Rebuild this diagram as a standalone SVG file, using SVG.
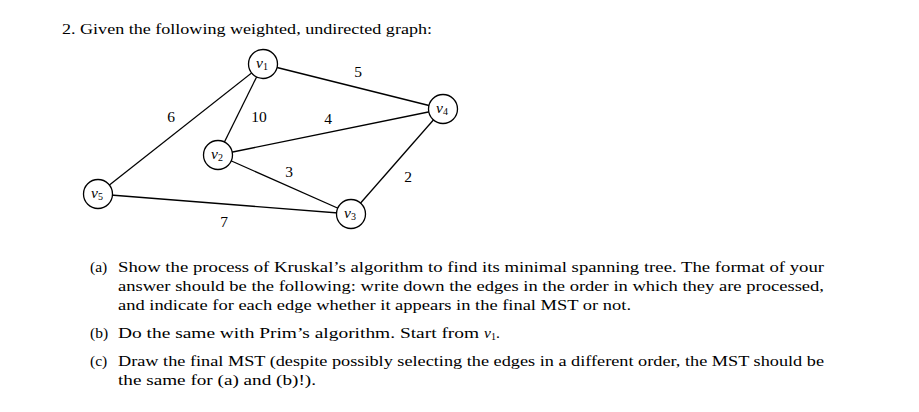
<svg xmlns="http://www.w3.org/2000/svg" width="919" height="412" viewBox="0 0 919 412">
<style>
text{font-family:"Liberation Serif",serif;font-size:15.5px;fill:#000}
.n circle{fill:#fff;stroke:#000;stroke-width:1.3}
.n text{font-style:italic;text-anchor:middle}
.n tspan{font-size:10px;font-style:normal}
#edges line{stroke:#000;stroke-width:1.3}
.w{text-anchor:middle}
</style>
<rect width="919" height="412" fill="#fff"/>
<text x="62" y="34" textLength="370" lengthAdjust="spacingAndGlyphs">2. Given the following weighted, undirected graph:</text>
<g id="edges">
<line x1="263" y1="64" x2="443" y2="109"/>
<line x1="263" y1="64" x2="98" y2="194"/>
<line x1="263" y1="64" x2="218" y2="155"/>
<line x1="218" y1="155" x2="443" y2="109"/>
<line x1="218" y1="155" x2="351" y2="214"/>
<line x1="443" y1="109" x2="351" y2="214"/>
<line x1="98" y1="194" x2="351" y2="214"/>
</g>
<g id="labels">
<text class="w" x="358" y="77">5</text>
<text class="w" x="171" y="122">6</text>
<text class="w" x="259" y="122">10</text>
<text class="w" x="328" y="124">4</text>
<text class="w" x="289" y="177">3</text>
<text class="w" x="408" y="182">2</text>
<text class="w" x="224" y="227">7</text>
</g>
<g id="v1" class="n"><circle cx="263" cy="64" r="14.5"/><text x="262" y="68">v<tspan dy="2">1</tspan></text></g>
<g id="v2" class="n"><circle cx="218" cy="155" r="14.5"/><text x="217" y="159">v<tspan dy="2">2</tspan></text></g>
<g id="v3" class="n"><circle cx="351" cy="214" r="14.5"/><text x="350" y="218">v<tspan dy="2">3</tspan></text></g>
<g id="v4" class="n"><circle cx="443" cy="109" r="14.5"/><text x="442" y="113">v<tspan dy="2">4</tspan></text></g>
<g id="v5" class="n"><circle cx="98" cy="194" r="14.5"/><text x="97" y="198">v<tspan dy="2">5</tspan></text></g>
<text x="90" y="272">(a)</text>
<text x="118" y="272" textLength="706" lengthAdjust="spacingAndGlyphs">Show the process of Kruskal’s algorithm to find its minimal spanning tree.  The format of your</text>
<text x="118" y="291" textLength="706" lengthAdjust="spacingAndGlyphs">answer should be the following: write down the edges in the order in which they are processed,</text>
<text x="118" y="310" textLength="513" lengthAdjust="spacingAndGlyphs">and indicate for each edge whether it appears in the final MST or not.</text>
<text x="90" y="338">(b)</text>
<text x="118" y="338"><tspan textLength="366" lengthAdjust="spacingAndGlyphs">Do the same with Prim’s algorithm. Start from </tspan><tspan font-style="italic">v</tspan><tspan font-size="10" dy="2">1</tspan><tspan dy="-2">.</tspan></text>
<text x="90" y="366">(c)</text>
<text x="118" y="366" textLength="706" lengthAdjust="spacingAndGlyphs">Draw the final MST (despite possibly selecting the edges in a different order, the MST should be</text>
<text x="118" y="385" textLength="198" lengthAdjust="spacingAndGlyphs">the same for (a) and (b)!).</text>
</svg>
